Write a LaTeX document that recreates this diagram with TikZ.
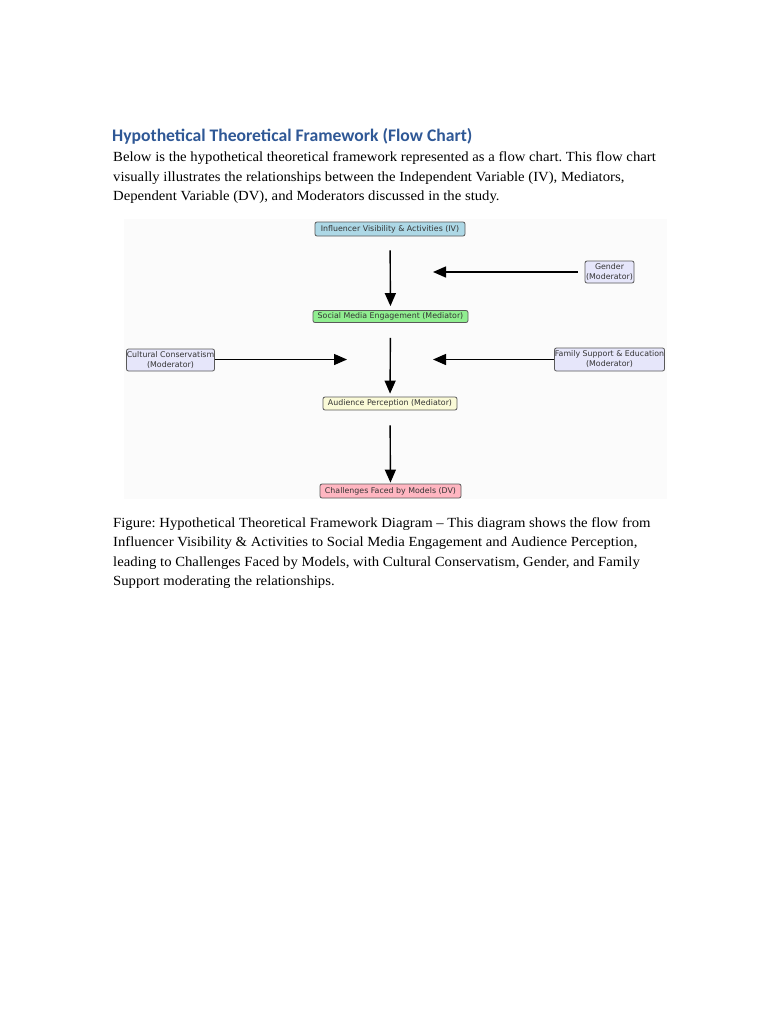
\documentclass[tikz,border=0pt]{standalone}
\usepackage{fontspec}
\setmainfont[FakeStretch=1.055]{Liberation Serif}
\newfontfamily\headfont{Carlito}
\newfontfamily\boxfont{DejaVu Sans}
\usetikzlibrary{arrows.meta}
\frenchspacing
\definecolor{titleblue}{RGB}{47,88,150}
\definecolor{bgpanel}{RGB}{251,251,251}
\definecolor{ivblue}{RGB}{173,216,230}
\definecolor{smgreen}{RGB}{144,238,144}
\definecolor{apyellow}{RGB}{250,250,215}
\definecolor{modlav}{RGB}{230,230,250}
\definecolor{dvpink}{RGB}{255,182,193}
\tikzset{
  x=1bp, y=-1bp,
  boxnode/.style={draw=black!65, line width=0.8bp, rounded corners=2bp, inner sep=0pt,
    align=center, text=black!80, font=\boxfont\fontsize{7.9}{10}\selectfont},
  flowarrow/.style={draw=black, line width=1.4bp, -{Triangle[length=13bp,width=11bp]}},
  bodyline/.style={anchor=base west, inner sep=0pt, font=\frenchspacing\fontsize{14}{16}\selectfont, text=black},
  titleline/.style={anchor=base west, inner sep=0pt, font=\headfont\bfseries\fontsize{17.7}{20}\selectfont, text=titleblue}
}
\begin{document}
\begin{tikzpicture}
\useasboundingbox[fill=white] (0,0) rectangle (768,1024);
% text above
\node[titleline] (title) at (112,141) {Hypothetical Theoretical Framework (Flow Chart)};
\node[bodyline] (b1) at (113,161) {Below is the hypothetical theoretical framework represented as a flow chart. This flow chart};
\node[bodyline] (b2) at (113,181) {visually illustrates the relationships between the Independent Variable (IV), Mediators,};
\node[bodyline] (b3) at (113,200) {Dependent Variable (DV), and Moderators discussed in the study.};
% diagram panel
\fill[bgpanel] (124,219) rectangle (667,499);
\node[boxnode, fill=ivblue, minimum width=150bp, minimum height=14bp] (iv) at (390,229) {Influencer Visibility \& Activities (IV)};
\node[boxnode, fill=smgreen, minimum width=155bp, minimum height=12bp] (sme) at (390.5,316.5) {Social Media Engagement (Mediator)};
\node[boxnode, fill=apyellow, minimum width=134bp, minimum height=13bp] (ap) at (390,403.5) {Audience Perception (Mediator)};
\node[boxnode, fill=dvpink, minimum width=141bp, minimum height=14bp] (dv) at (390.5,491) {Challenges Faced by Models (DV)};
\node[boxnode, fill=modlav, minimum width=49bp, minimum height=22bp] (gen) at (609.5,272) {Gender\\(Moderator)};
\node[boxnode, fill=modlav, minimum width=88bp, minimum height=22bp] (cc) at (170.5,360) {Cultural Conservatism\\(Moderator)};
\node[boxnode, fill=modlav, minimum width=110bp, minimum height=23bp] (fs) at (609.5,359.5) {Family Support \& Education\\(Moderator)};
\coordinate (gend) at (433,272);
\coordinate (ccend) at (347,359.5);
\coordinate (fsend) at (433,359.5);
\draw[flowarrow, shorten <=14bp, shorten >=4bp] (iv) -- (sme);
\draw[flowarrow, shorten <=15bp, shorten >=3bp] (sme) -- (ap);
\draw[flowarrow, shorten <=15bp, shorten >=1bp] (ap) -- (dv);
\draw[flowarrow, shorten <=7bp] (gen.west) -- (gend);
\draw[flowarrow] (cc.east |- ccend) -- (ccend);
\draw[flowarrow] (fs.west |- fsend) -- (fsend);
% caption
\node[bodyline] (c1) at (113,527) {Figure: Hypothetical Theoretical Framework Diagram -- This diagram shows the flow from};
\node[bodyline] (c2) at (113,546) {Influencer Visibility \& Activities to Social Media Engagement and Audience Perception,};
\node[bodyline] (c3) at (113,566) {leading to Challenges Faced by Models, with Cultural Conservatism, Gender, and Family};
\node[bodyline] (c4) at (113,585) {Support moderating the relationships.};
\end{tikzpicture}
\end{document}
